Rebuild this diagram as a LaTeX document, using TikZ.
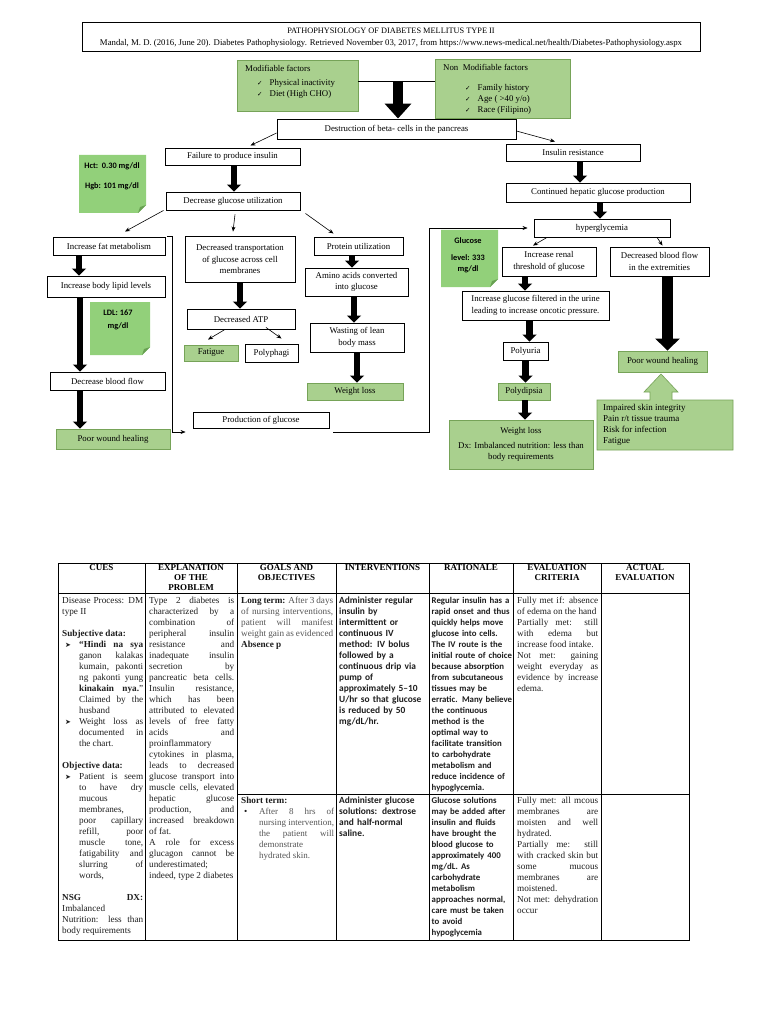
\documentclass[tikz,border=0pt]{standalone}
\usepackage{fontspec}
\setmainfont{Liberation Serif}
\newfontfamily\calib{Carlito}
\newfontfamily\djv{DejaVu Sans}
\usetikzlibrary{arrows.meta}
\setlength{\parindent}{0pt}
\hyphenpenalty=10000
\exhyphenpenalty=10000
\definecolor{gfill}{RGB}{169,208,142}
\definecolor{gdraw}{RGB}{118,163,88}
\definecolor{nfill}{RGB}{146,208,122}
\definecolor{nfold}{RGB}{104,160,82}
\definecolor{txtd}{RGB}{30,30,30}
\definecolor{txtg}{RGB}{85,85,85}
\newcommand\ffont{\fontsize{8.8}{11.5}\selectfont}
\newcommand\tfont{\fontsize{9.2}{11}\selectfont}
\newcommand\hfont{\fontsize{9}{9.8}\selectfont\bfseries}
\newcommand\cfont{\calib\bfseries\fontsize{9.4}{11}\selectfont}
\newcommand\rfont{\calib\bfseries\fontsize{8.8}{11}\selectfont}
\newcommand\nfont{\calib\bfseries\fontsize{8.3}{9}\selectfont}
\newcommand\ck{{\djv\fontsize{6.5}{7}\selectfont ✓}}
\newcommand\arr{{\djv\fontsize{7}{7}\selectfont ➤}}
\newcommand\bitem[2]{\par\hangindent=#1\hangafter=0\noindent\llap{\makebox[#1][l]{\hspace{3pt}#2}}}
\newcommand\blank{\par\vspace{11pt}}
\newcommand\stickynote[4]{%
  \fill[nfill] (#1,#2) -- (#3,#2) -- (#3,#4-8) -- (#3-8,#4) -- (#1,#4) -- cycle;
  \fill[nfold] (#3,#4-8) -- (#3-8,#4) -- (#3-6,#4-6) -- cycle;}
\tikzset{
  box/.style={draw, line width=0.9pt, fill=white, align=center, font=\ffont, inner sep=1pt},
  gbox/.style={box, draw=gdraw, fill=gfill},
  thinar/.style={-{Stealth[length=5pt,width=4pt]}, line width=0.6pt},
  fatar/.style={-{Triangle[length=7pt,width=14pt]}, line width=6.5pt},
  fatterar/.style={-{Triangle[length=12pt,width=24pt]}, line width=11pt},
  bigar/.style={-{Triangle[length=15pt,width=26pt]}, line width=10pt},
  plain/.style={inner sep=0pt, font=\ffont},
  cell/.style={anchor=north west, inner sep=0pt, align=justify, font=\tfont, text=txtd},
  ccell/.style={cell, align=left, font=\cfont},
  rcell/.style={cell, align=left, font=\rfont},
  hdr/.style={anchor=north, inner sep=0pt, align=center, font=\hfont},
  tbl/.style={line width=1pt},
  notetext/.style={font=\nfont, align=center, inner sep=0pt}
}
\begin{document}
\begin{tikzpicture}[x=1pt,y=-1pt]
\useasboundingbox[fill=white] (0,0) rectangle (768,1024);

% ---------- title ----------
\node[draw, line width=1pt, minimum width=618pt, minimum height=29pt, inner sep=0pt] (titlebox) at (391,37.5) {};
\node[plain, font=\fontsize{8.3}{9}\selectfont] (title) at (391,30.5) {PATHOPHYSIOLOGY OF DIABETES MELLITUS TYPE II};
\node[plain, font=\fontsize{8.75}{9}\selectfont] (cite) at (391,43.5) {Mandal, M. D. (2016, June 20). Diabetes Pathophysiology. Retrieved November 03, 2017, from https://www.news-medical.net/health/Diabetes-Pathophysiology.aspx};

% ---------- risk factors ----------
\node[gbox, minimum width=121pt, minimum height=51pt] (mod) at (297.5,85.5) {};
\node[plain, anchor=west] (modt) at (245,68) {Modifiable factors};
\node[plain, anchor=west] (mod1) at (257,83) {\ck\hspace{7pt}Physical inactivity};
\node[plain, anchor=west] (mod2) at (257,94) {\ck\hspace{7pt}Diet (High CHO)};
\node[gbox, minimum width=135pt, minimum height=59pt] (nmod) at (502.5,88.5) {};
\node[plain, anchor=west] (nmodt) at (443,67) {Non\ \ Modifiable factors};
\node[plain, anchor=west] (nm1) at (465,88) {\ck\hspace{7pt}Family history};
\node[plain, anchor=west] (nm2) at (465,99) {\ck\hspace{7pt}Age ( >40 y/o)};
\node[plain, anchor=west] (nm3) at (465,110) {\ck\hspace{7pt}Race (Filipino)};

% ---------- flow boxes (left/middle) ----------
\node[box, minimum width=239pt, minimum height=20pt] (destr) at (396.5,129) {Destruction of beta- cells in the pancreas};
\node[box, minimum width=135pt, minimum height=17pt] (fail) at (232.5,156.5) {Failure to produce insulin};
\node[box, minimum width=134pt, minimum height=18pt] (dgu) at (233,201) {Decrease glucose utilization};
\node[box, minimum width=112pt, minimum height=18pt] (fat) at (109,246) {Increase fat metabolism};
\node[box, minimum width=118pt, minimum height=21pt] (lipid) at (106,286.5) {Increase body lipid levels};
\node[box, minimum width=115pt, minimum height=18pt] (dbf) at (107.5,381) {Decrease blood flow};
\node[gbox, minimum width=114pt, minimum height=20pt] (pwh1) at (113,439) {Poor wound healing};
\node[box, minimum width=110pt, minimum height=46pt] (dtrans) at (240,259) {Decreased transportation\\of glucose across cell\\membranes};
\node[box, minimum width=108pt, minimum height=20pt] (atp) at (241,319) {Decreased ATP};
\node[gbox, minimum width=54pt, minimum height=16pt] (fatigue) at (211,353) {Fatigue};
\node[box, minimum width=53pt, minimum height=18pt] (polyphagi) at (271.5,353) {Polyphagi};
\node[box, minimum width=89pt, minimum height=18pt] (protein) at (358.5,246) {Protein utilization};
\node[box, minimum width=103pt, minimum height=28pt] (amino) at (356.5,282) {Amino acids converted\\into glucose};
\node[box, minimum width=94pt, minimum height=29pt] (wasting) at (357,337.5) {Wasting of lean\\body mass};
\node[gbox, minimum width=96pt, minimum height=17pt] (wl1) at (355,391.5) {Weight loss};
\node[box, minimum width=136pt, minimum height=16pt] (prod) at (261,420) {Production of glucose};

% ---------- flow boxes (right) ----------
\node[box, minimum width=134pt, minimum height=17pt] (insres) at (573,152.5) {Insulin resistance};
\node[box, minimum width=184pt, minimum height=19pt] (hep) at (598,192.5) {Continued hepatic glucose production};
\node[box, minimum width=136pt, minimum height=18pt] (hyper) at (602,228) {hyperglycemia};
\node[box, minimum width=94pt, minimum height=29pt] (renal) at (549,261.5) {Increase renal\\threshold of glucose};
\node[box, minimum width=99pt, minimum height=29pt] (dbfe) at (659.5,261.5) {Decreased blood flow\\in the extremities};
\node[box, minimum width=147pt, minimum height=29pt] (filt) at (535.5,305.5) {Increase glucose filtered in the urine\\leading to increase oncotic pressure.};
\node[box, minimum width=45pt, minimum height=18pt] (polyuria) at (525.5,351) {Polyuria};
\node[gbox, minimum width=52pt, minimum height=17pt] (polyd) at (524,391.5) {Polydipsia};
\node[gbox, minimum width=144pt, minimum height=49pt] (wl2) at (521,444.5) {Weight loss\\[3pt]Dx: Imbalanced nutrition: less than\\body requirements};
\node[gbox, minimum width=89pt, minimum height=21pt] (pwh2) at (662.5,361.5) {Poor wound healing};

% callout with up arrow
\draw[draw=gdraw, fill=gfill, line width=0.6pt] (597,400) -- (650,400) -- (650,392) -- (644,392) -- (661,374) -- (678,392) -- (672,392) -- (672,400) -- (733,400) -- (733,450) -- (597,450) -- cycle;
\node[anchor=north west, align=left, inner sep=0pt, font=\fontsize{9}{11}\selectfont] (risks) at (603,403) {\strut Impaired skin integrity\\Pain r/t tissue trauma\\Risk for infection\\Fatigue};

% ---------- sticky notes ----------
\stickynote{79}{155}{146}{213}
\node[notetext] (hct) at (112,176) {Hct:\ \ 0.30 mg/dl\\[11pt]Hgb: 101 mg/dl};
\stickynote{90}{302}{150}{355}
\node[notetext] (ldl) at (118,320) {LDL: 167\\[4pt]mg/dl};
\stickynote{441}{230}{498}{287}
\node[notetext] (glu) at (468,255) {Glucose\\[8pt]level: 333\\[2pt]mg/dl};

% ---------- connectors ----------
\draw[line width=0.9pt] ([yshift=4.5pt]mod.east) -- ([yshift=7.5pt]nmod.west);
\coordinate (mj) at (398,81);
\draw[bigar] (mj) -- (destr.north -| mj);
\draw[thinar] ([yshift=-4pt]destr.west) -- ([xshift=18pt,yshift=2pt]fail.north);
\draw[thinar] ([yshift=-2pt]destr.east) -- ([xshift=-18pt,yshift=2pt]insres.north);
\draw[fatar] ([xshift=1.5pt]fail.south) -- ([xshift=1pt]dgu.north);
\draw[thinar] ([xshift=-2pt]dgu.south west) -- ([xshift=16pt,yshift=5pt]fat.north);
\draw[thinar] ([xshift=2pt,yshift=-4pt]dgu.south) -- ([xshift=-7pt,yshift=4pt]dtrans.north);
\draw[thinar] ([xshift=5pt,yshift=-3pt]dgu.south east) -- ([xshift=-25pt,yshift=3pt]protein.north);
\draw[fatar] ([xshift=-30pt]fat.south) -- ([xshift=-27pt]lipid.north);
\draw[fatar] ([xshift=-26pt]lipid.south) -- ([xshift=-27.5pt]dbf.north);
\draw[fatar] ([xshift=-27.5pt]dbf.south) -- ([xshift=-33pt]pwh1.north);
\coordinate (brk) at (172,432);
\draw[thinar] ([xshift=2pt]fat.north east) -| (brk) -- ([xshift=-7pt,yshift=-12pt]prod.west);
\draw[fatar] (dtrans.south) -- ([xshift=-1pt]atp.north);
\draw[thinar] ([xshift=-16pt]atp.south) -- ([xshift=-3pt,yshift=5pt]fatigue.north);
\draw[thinar] ([xshift=25pt,yshift=2pt]atp.south) -- ([xshift=10pt,yshift=5pt]polyphagi.north);
\draw[fatar] ([xshift=-6.5pt]protein.south) -- ([xshift=-4.5pt]amino.north);
\draw[fatar] ([xshift=-2.5pt]amino.south) -- ([xshift=-3pt]wasting.north);
\draw[fatar] (wasting.south) -- ([xshift=2pt]wl1.north);
\coordinate (pl) at (429,432);
\draw[thinar] ([xshift=4pt,yshift=-12pt]prod.east) -- (pl) |- ([xshift=-6pt]hyper.west);
\draw[fatar] ([xshift=7pt]insres.south) -- ([xshift=-18pt]hep.north);
\draw[fatar] ([xshift=2pt]hep.south) -- ([xshift=-2pt]hyper.north);
\draw[thinar] ([xshift=-55pt]hyper.south) -- ([xshift=-16pt,yshift=1pt]renal.north);
\draw[thinar] ([xshift=55pt]hyper.south) -- ([xshift=3pt,yshift=1pt]dbfe.north);
\draw[fatar] ([xshift=-24pt]renal.south) -- ([xshift=-10.5pt]filt.north);
\draw[fatterar] ([xshift=8pt]dbfe.south) -- ([xshift=5pt]pwh2.north);
\draw[fatar] ([xshift=-6pt]filt.south) -- ([xshift=4pt]polyuria.north);
\draw[fatar] (polyuria.south) -- ([xshift=1.5pt]polyd.north);
\draw[fatar] ([xshift=1pt]polyd.south) -- ([xshift=4pt]wl2.north);

% ---------- table ----------
\draw[tbl] (58,563) rectangle (689,940);
\foreach \x in {145,237,336,429,513,601} \draw[tbl] (\x,563) -- (\x,940);
\draw[tbl] (58,593) -- (689,593);
\draw[tbl] (237,794) -- (689,794);

\node[hdr] (h1) at (101.5,563.5) {\strut CUES};
\node[hdr] (h2) at (191,563.5) {\strut EXPLANATION\\OF THE\\PROBLEM};
\node[hdr] (h3) at (286.5,563.5) {\strut GOALS AND\\OBJECTIVES};
\node[hdr] (h4) at (382.5,563.5) {\strut INTERVENTIONS};
\node[hdr] (h5) at (471,563.5) {\strut RATIONALE};
\node[hdr] (h6) at (557,563.5) {\strut EVALUATION\\CRITERIA};
\node[hdr] (h7) at (645,563.5) {\strut ACTUAL\\EVALUATION};

\node[cell, text width=81pt] (ccues) at (62,595.5) {\strut Disease Process: DM\linebreak type II\blank
\textbf{Subjective data:}
\bitem{17pt}{\arr}\textbf{“Hindi na sya}\linebreak ganon kalakas\linebreak kumain, pakonti\linebreak ng pakonti yung\linebreak \textbf{kinakain nya.}”\linebreak Claimed by the\linebreak husband
\bitem{17pt}{\arr}Weight loss as\linebreak documented in\linebreak the chart.\blank
\textbf{Objective data:}
\bitem{17pt}{\arr}Patient is seem\linebreak to have dry\linebreak mucous\linebreak membranes,\linebreak poor capillary\linebreak refill, poor\linebreak muscle tone,\linebreak fatigability and\linebreak slurring of\linebreak words,\blank
\textbf{NSG DX:}\linebreak Imbalanced\par Nutrition: less than\linebreak body requirements\par};

\node[cell, text width=85pt] (cexpl) at (149,595.5) {\strut Type 2 diabetes is\linebreak characterized by a\linebreak combination of\linebreak peripheral insulin\linebreak resistance and\linebreak inadequate insulin\linebreak secretion by\linebreak pancreatic beta cells.\linebreak Insulin resistance,\linebreak which has been\linebreak attributed to elevated\linebreak levels of free fatty\linebreak acids and\linebreak proinflammatory\linebreak cytokines in plasma,\linebreak leads to decreased\linebreak glucose transport into\linebreak muscle cells, elevated\linebreak hepatic glucose\linebreak production, and\linebreak increased breakdown\linebreak of fat.\par A role for excess\linebreak glucagon cannot be\linebreak underestimated;\linebreak indeed, type 2 diabetes\par};

\node[cell, text width=92pt] (cg1) at (241,595.5) {\strut\textbf{Long term:} {\color{txtg}After 3 days\linebreak of nursing interventions,\linebreak patient will manifest\linebreak weight gain as evidenced}\par\textbf{Absence p}\par};
\node[ccell, text width=89pt] (ci1) at (339,595.5) {\strut Administer regular\\insulin by\\intermittent or\\continuous IV\\method: IV bolus\\followed by a\\continuous drip via\\pump of\\approximately 5–10\\U/hr so that glucose\\is reduced by 50\\mg/dL/hr.};
\node[rcell, text width=82pt] (cr1) at (431.5,595.5) {\strut Regular insulin has a\\rapid onset and thus\\quickly helps move\\glucose into cells.\\The IV route is the\\initial route of choice\\because absorption\\from subcutaneous\\tissues may be\\erratic. Many believe\\the continuous\\method is the\\optimal way to\\facilitate transition\\to carbohydrate\\metabolism and\\reduce incidence of\\hypoglycemia.};
\node[cell, text width=81pt] (ce1) at (517,595.5) {\strut Fully met if: absence\linebreak of edema on the hand\par Partially met: still\linebreak with edema but\linebreak increase food intake.\par Not met: gaining\linebreak weight everyday as\linebreak evidence by increase\linebreak edema.\par};

\node[cell, text width=93pt] (cg2) at (241,796) {\strut\textbf{Short term:}
\bitem{18pt}{•}{\color{txtg}\fontsize{9}{11}\selectfont After 8 hrs of\linebreak nursing intervention,\linebreak the patient will\linebreak demonstrate\linebreak hydrated skin.}\par};
\node[ccell, text width=89pt] (ci2) at (339,796) {\strut Administer glucose\\solutions: dextrose\\and half-normal\\saline.};
\node[rcell, text width=82pt] (cr2) at (431.5,796) {\strut Glucose solutions\\may be added after\\insulin and fluids\\have brought the\\blood glucose to\\approximately 400\\mg/dL. As\\carbohydrate\\metabolism\\approaches normal,\\care must be taken\\to avoid\\hypoglycemia};
\node[cell, text width=81pt] (ce2) at (517,796) {\strut Fully met: all mcous\linebreak membranes are\linebreak moisten and well\linebreak hydrated.\par Partially me: still\linebreak with cracked skin but\linebreak some mucous\linebreak membranes are\linebreak moistened.\par Not met: dehydration\linebreak occur\par};
\end{tikzpicture}
\end{document}
